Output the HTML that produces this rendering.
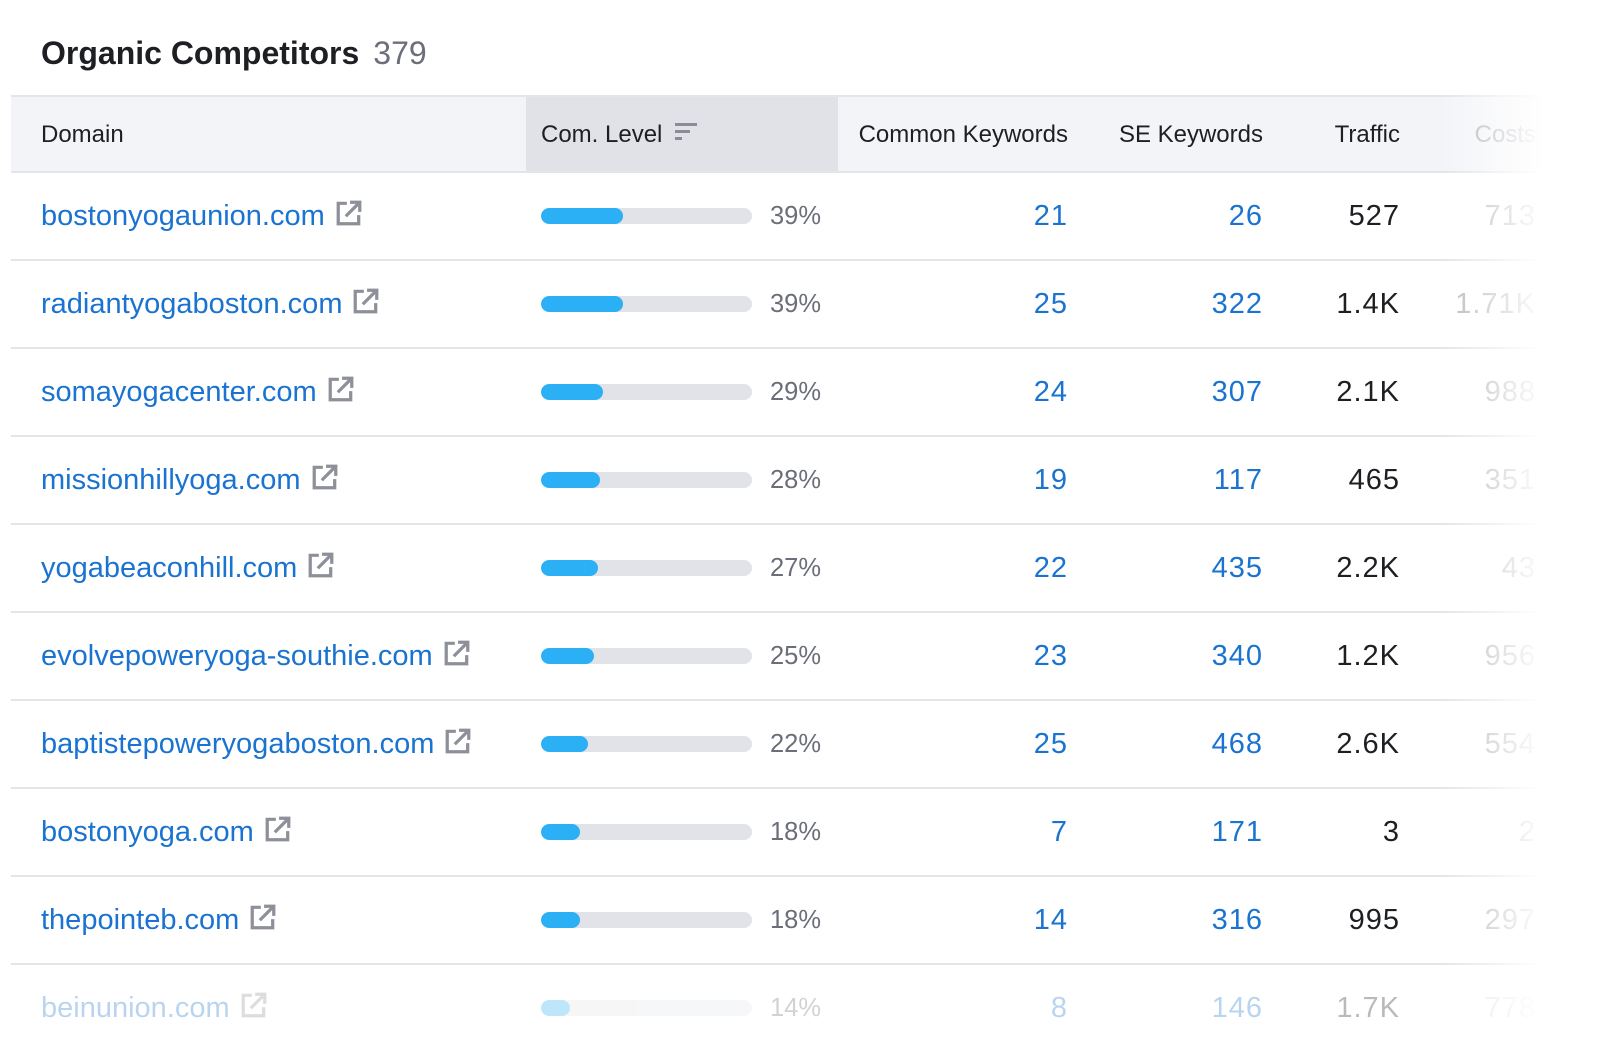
<!DOCTYPE html>
<html><head><meta charset="utf-8"><style>
*{margin:0;padding:0;box-sizing:border-box}
body{width:1600px;height:1043px;background:#fff;font-family:"Liberation Sans",sans-serif;position:relative;overflow:hidden;color:#1d1f23}
.t{position:absolute;left:41px;top:35px;font-size:32px;font-weight:bold;color:#1d1f23}
.t span{font-weight:normal;color:#6c6e79;margin-left:14px}
.hd{position:absolute;left:11px;top:95px;width:1589px;height:78px;background:#f3f4f8;border-top:2px solid #e4e5ea;border-bottom:2px solid #e4e5ea}
.hd .sel{position:absolute;left:515px;top:0;width:312px;height:100%;background:#e1e2e8}
.h{position:absolute;top:0;line-height:75px;font-size:24px;color:#1d1f23}
.r{position:absolute;left:11px;width:1589px;height:88px;border-bottom:2px solid #e4e5ea}
.c{position:absolute;top:0;line-height:86px;font-size:29px}
.d{left:30px;color:#1a73d0;white-space:nowrap}
.d svg{vertical-align:-2px;margin-left:10px}
.bar{position:absolute;left:530px;top:35px;width:211px;height:16px;border-radius:8px;background:#e2e3e8;overflow:hidden}
.bar i{display:block;height:100%;background:#2bb0f5;border-radius:8px}
.p{left:759px;color:#6c6e79;font-size:25.5px}
.n{text-align:right;color:#1a73d0;letter-spacing:1px}
.ck{right:532px}.se{right:337px}.tr{right:200px;color:#1d1f23}.co{right:64px;color:#b8b9be}
.fade{position:absolute;left:1440px;top:0;width:160px;height:1043px;background:linear-gradient(to right,rgba(255,255,255,0),#fff 65%)}
.last{opacity:.3}
</style></head><body>
<div class="t">Organic Competitors<span>379</span></div>
<div class="hd"><div class="sel"></div>
<div class="h" style="left:30px">Domain</div>
<div class="h" style="left:530px">Com. Level <svg width="26" height="20" viewBox="0 0 26 20" style="vertical-align:0px;margin-left:4px"><rect x="2" y="1" width="22" height="3" fill="#8a8c96"/><rect x="2" y="8" width="15" height="3" fill="#8a8c96"/><rect x="2" y="15" width="7" height="3" fill="#8a8c96"/></svg></div>
<div class="h" style="right:532px">Common Keywords</div>
<div class="h" style="right:337px">SE Keywords</div>
<div class="h" style="right:200px">Traffic</div>
<div class="h" style="right:64px;color:#b0b2b8">Costs</div>
</div>

<div class="r" style="top:173px"><div class="c d">bostonyogaunion.com<svg width="28" height="28" viewBox="0 0 26 26"><path d="M11 4H3v19h19v-8" fill="none" stroke="#8e9099" stroke-width="3"/><path d="M10 16L22 4M14 3h9v9" fill="none" stroke="#8e9099" stroke-width="3"/></svg></div><div class="bar"><i style="width:82px"></i></div><div class="c p">39%</div><div class="c n ck">21</div><div class="c n se">26</div><div class="c n tr">527</div><div class="c n co">713</div></div>
<div class="r" style="top:261px"><div class="c d">radiantyogaboston.com<svg width="28" height="28" viewBox="0 0 26 26"><path d="M11 4H3v19h19v-8" fill="none" stroke="#8e9099" stroke-width="3"/><path d="M10 16L22 4M14 3h9v9" fill="none" stroke="#8e9099" stroke-width="3"/></svg></div><div class="bar"><i style="width:82px"></i></div><div class="c p">39%</div><div class="c n ck">25</div><div class="c n se">322</div><div class="c n tr">1.4K</div><div class="c n co">1.71K</div></div>
<div class="r" style="top:349px"><div class="c d">somayogacenter.com<svg width="28" height="28" viewBox="0 0 26 26"><path d="M11 4H3v19h19v-8" fill="none" stroke="#8e9099" stroke-width="3"/><path d="M10 16L22 4M14 3h9v9" fill="none" stroke="#8e9099" stroke-width="3"/></svg></div><div class="bar"><i style="width:62px"></i></div><div class="c p">29%</div><div class="c n ck">24</div><div class="c n se">307</div><div class="c n tr">2.1K</div><div class="c n co">988</div></div>
<div class="r" style="top:437px"><div class="c d">missionhillyoga.com<svg width="28" height="28" viewBox="0 0 26 26"><path d="M11 4H3v19h19v-8" fill="none" stroke="#8e9099" stroke-width="3"/><path d="M10 16L22 4M14 3h9v9" fill="none" stroke="#8e9099" stroke-width="3"/></svg></div><div class="bar"><i style="width:59px"></i></div><div class="c p">28%</div><div class="c n ck">19</div><div class="c n se">117</div><div class="c n tr">465</div><div class="c n co">351</div></div>
<div class="r" style="top:525px"><div class="c d">yogabeaconhill.com<svg width="28" height="28" viewBox="0 0 26 26"><path d="M11 4H3v19h19v-8" fill="none" stroke="#8e9099" stroke-width="3"/><path d="M10 16L22 4M14 3h9v9" fill="none" stroke="#8e9099" stroke-width="3"/></svg></div><div class="bar"><i style="width:57px"></i></div><div class="c p">27%</div><div class="c n ck">22</div><div class="c n se">435</div><div class="c n tr">2.2K</div><div class="c n co">43</div></div>
<div class="r" style="top:613px"><div class="c d">evolvepoweryoga-southie.com<svg width="28" height="28" viewBox="0 0 26 26"><path d="M11 4H3v19h19v-8" fill="none" stroke="#8e9099" stroke-width="3"/><path d="M10 16L22 4M14 3h9v9" fill="none" stroke="#8e9099" stroke-width="3"/></svg></div><div class="bar"><i style="width:53px"></i></div><div class="c p">25%</div><div class="c n ck">23</div><div class="c n se">340</div><div class="c n tr">1.2K</div><div class="c n co">956</div></div>
<div class="r" style="top:701px"><div class="c d">baptistepoweryogaboston.com<svg width="28" height="28" viewBox="0 0 26 26"><path d="M11 4H3v19h19v-8" fill="none" stroke="#8e9099" stroke-width="3"/><path d="M10 16L22 4M14 3h9v9" fill="none" stroke="#8e9099" stroke-width="3"/></svg></div><div class="bar"><i style="width:47px"></i></div><div class="c p">22%</div><div class="c n ck">25</div><div class="c n se">468</div><div class="c n tr">2.6K</div><div class="c n co">554</div></div>
<div class="r" style="top:789px"><div class="c d">bostonyoga.com<svg width="28" height="28" viewBox="0 0 26 26"><path d="M11 4H3v19h19v-8" fill="none" stroke="#8e9099" stroke-width="3"/><path d="M10 16L22 4M14 3h9v9" fill="none" stroke="#8e9099" stroke-width="3"/></svg></div><div class="bar"><i style="width:39px"></i></div><div class="c p">18%</div><div class="c n ck">7</div><div class="c n se">171</div><div class="c n tr">3</div><div class="c n co">2</div></div>
<div class="r" style="top:877px"><div class="c d">thepointeb.com<svg width="28" height="28" viewBox="0 0 26 26"><path d="M11 4H3v19h19v-8" fill="none" stroke="#8e9099" stroke-width="3"/><path d="M10 16L22 4M14 3h9v9" fill="none" stroke="#8e9099" stroke-width="3"/></svg></div><div class="bar"><i style="width:39px"></i></div><div class="c p">18%</div><div class="c n ck">14</div><div class="c n se">316</div><div class="c n tr">995</div><div class="c n co">297</div></div>
<div class="r last" style="top:965px;border-bottom:none"><div class="c d">beinunion.com<svg width="28" height="28" viewBox="0 0 26 26"><path d="M11 4H3v19h19v-8" fill="none" stroke="#8e9099" stroke-width="3"/><path d="M10 16L22 4M14 3h9v9" fill="none" stroke="#8e9099" stroke-width="3"/></svg></div><div class="bar"><i style="width:29px"></i></div><div class="c p">14%</div><div class="c n ck">8</div><div class="c n se">146</div><div class="c n tr">1.7K</div><div class="c n co">778</div></div>
<div class="fade"></div>
</body></html>
